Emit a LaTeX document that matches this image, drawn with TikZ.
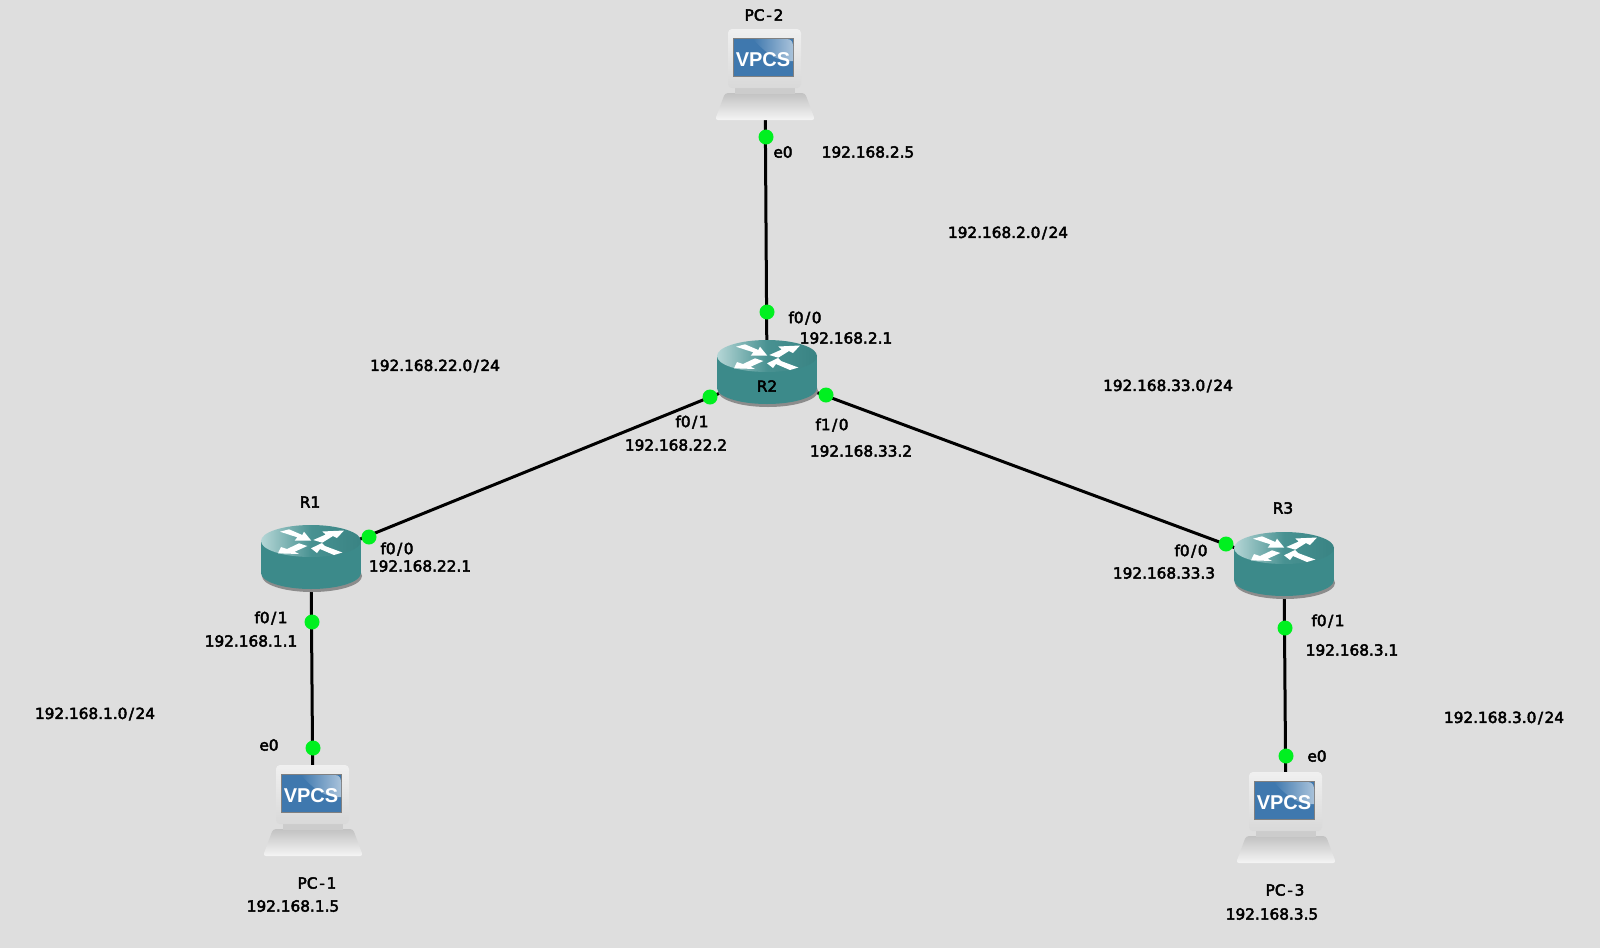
\documentclass[tikz,border=0pt]{standalone}
\usepackage{fontspec}
\setmainfont{DejaVu Sans}
\newfontfamily\lblfont[FakeBold=3]{DejaVu Sans}
\newfontfamily\vpcsfont{Liberation Sans Bold}
\newcommand{\slashgap}{\kern1.5pt/\kern1.5pt}
\newcommand{\dashgap}{\kern1.8pt-\kern1.8pt}
\definecolor{bgcol}{HTML}{DEDEDE}
\definecolor{teal1}{HTML}{3C8A8A}
\definecolor{teal2}{HTML}{B5D6D6}
\definecolor{screencol}{HTML}{3F78AE}
\definecolor{portcol}{HTML}{00F020}
\tikzset{
  lbl/.style={font=\lblfont\fontsize{15.3}{15.3}\selectfont,inner sep=0pt,text=black},
  hub/.style={inner sep=0pt,minimum size=0pt},
  link/.style={line width=3pt,black},
  port/.style={circle,fill=portcol,inner sep=0pt,minimum size=15pt},
  router/.pic={
    \fill[black!45] (1,17) ellipse (50 and 16);
    \fill[teal1] (0,14) ellipse (50 and 16);
    \fill[teal1] (-50,-18) rectangle (50,14);
    \shade[left color=teal2,right color=teal1!95!black,middle color=teal1!90!teal2] (0,-18) ellipse (50 and 16);
    \fill[white] (-31,-27.3) -- (-22,-29.7) -- (-8.7,-24) -- (-7,-27.3) -- (0.3,-18.3) -- (-16.3,-18.3) -- (-13.7,-21.7) -- cycle;
    \fill[white] (2.3,-19) -- (14.7,-24.5) -- (11.3,-27.5) -- (33,-28.5) -- (26,-21) -- (22,-23) -- (11.3,-16.3) -- cycle;
    \fill[white] (-12,-15.7) -- (-3.7,-13) -- (-16.3,-7.3) -- (-12,-5) -- (-33,-5.7) -- (-30,-12) -- (-24,-10) -- cycle;
    \fill[white] (0,-10.7) -- (11,-16) -- (14,-13) -- (31.3,-6.5) -- (23,-4) -- (9,-10) -- (6,-6) -- cycle;
  },
  vpcs/.pic={
    \shade[top color=black!24,bottom color=black!4,rounded corners=3pt] (-50,45) -- (-40,18) -- (40,18) -- (50,45) -- cycle;
    \fill[black!20] (-30,13) rectangle (30,19);
    \shade[top color=black!6,bottom color=black!15,rounded corners=4pt] (-37,-46) rectangle (36,13);
    \fill[black!50] (-32,-37) rectangle (29,2);
    \fill[screencol] (-31,-36) rectangle (28,1);
    \shade[left color=screencol,right color=screencol!45!white] (-12,-36) -- (22,-36) .. controls (26,-36) and (28,-33) .. (28,-29) -- (28,-14) .. controls (15,-12) and (0,-22) .. cycle;
    \node[text=white,font=\vpcsfont\fontsize{20}{20}\selectfont,inner sep=0pt] (vpcstext) at (-2,-15) {VPCS};
  }
}
\begin{document}
\begin{tikzpicture}[x=1pt,y=-1pt]
  \useasboundingbox[fill=bgcol] (0,0) rectangle (1600,948);
  % hubs
  \node[hub] (r1) at (311,559) {};
  \node[hub] (r2) at (767,374) {};
  \node[hub] (r3) at (1284,566) {};
  \node[hub] (pc1) at (313,811) {};
  \node[hub] (pc2) at (765,75) {};
  \node[hub] (pc3) at (1286,818) {};
  % links
  \draw[link] (pc2) -- (r2);
  \draw[link] (r1) -- (r2);
  \draw[link] (r2) -- (r3);
  \draw[link] (r1) -- (pc1);
  \draw[link] (r3) -- (pc3);
  % icons
  \foreach \x/\y in {311/559,767/374,1284/566}
    \pic at (\x,\y) {router};
  \foreach \x/\y in {313/811,765/75,1286/818}
    \pic at (\x,\y) {vpcs};
  % ports
  \node[port] (p1) at (766,137) {};
  \node[port] (p2) at (767,312) {};
  \node[port] (p3) at (710,397) {};
  \node[port] (p4) at (826,395) {};
  \node[port] (p5) at (369,537) {};
  \node[port] (p6) at (1226,544) {};
  \node[port] (p7) at (312,622) {};
  \node[port] (p8) at (313,748) {};
  \node[port] (p9) at (1285,628) {};
  \node[port] (p10) at (1286,756) {};
  % labels
  \node[lbl] (l1) at (764,15) {PC\dashgap 2};
  \node[lbl] (l2) at (783,152) {e0};
  \node[lbl] (l3) at (868,152) {192.168.2.5};
  \node[lbl] (l4) at (1008,233) {192.168.2.0\slashgap 24};
  \node[lbl] (l5) at (805,318) {f0\slashgap 0};
  \node[lbl] (l6) at (846,338) {192.168.2.1};
  \node[lbl] (l7) at (435,366) {192.168.22.0\slashgap 24};
  \node[lbl] (l8) at (1168,386) {192.168.33.0\slashgap 24};
  \node[lbl] (l9) at (767,386) {R2};
  \node[lbl] (l10) at (692,422) {f0\slashgap 1};
  \node[lbl] (l11) at (676,445) {192.168.22.2};
  \node[lbl] (l12) at (832,425) {f1\slashgap 0};
  \node[lbl] (l13) at (861,451) {192.168.33.2};
  \node[lbl] (l14) at (310,502) {R1};
  \node[lbl] (l15) at (1283,508) {R3};
  \node[lbl] (l16) at (397,549) {f0\slashgap 0};
  \node[lbl] (l17) at (420,566) {192.168.22.1};
  \node[lbl] (l18) at (1191,551) {f0\slashgap 0};
  \node[lbl] (l19) at (1164,573) {192.168.33.3};
  \node[lbl] (l20) at (271,618) {f0\slashgap 1};
  \node[lbl] (l21) at (251,641) {192.168.1.1};
  \node[lbl] (l22) at (1328,621) {f0\slashgap 1};
  \node[lbl] (l23) at (1352,650) {192.168.3.1};
  \node[lbl] (l24) at (95,714) {192.168.1.0\slashgap 24};
  \node[lbl] (l25) at (1504,718) {192.168.3.0\slashgap 24};
  \node[lbl] (l26) at (269,745) {e0};
  \node[lbl] (l27) at (1317,756) {e0};
  \node[lbl] (l28) at (317,883) {PC\dashgap 1};
  \node[lbl] (l29) at (293,906) {192.168.1.5};
  \node[lbl] (l30) at (1285,890) {PC\dashgap 3};
  \node[lbl] (l31) at (1272,914) {192.168.3.5};
\end{tikzpicture}
\end{document}
